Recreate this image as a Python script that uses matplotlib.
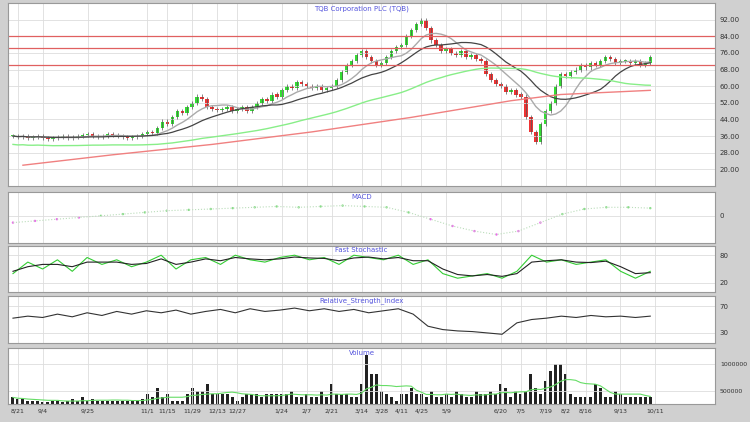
import numpy as np
import pandas as pd
import matplotlib
matplotlib.use("Agg")
import matplotlib.pyplot as plt

# ── Data ───────────────────────────────────────────────────
closes = [36, 35.5, 36, 35, 35.5, 36, 35, 34.5, 35, 35.5, 36, 35, 35.5, 36, 36.5, 37, 36, 35.5, 36, 37,
          36.5, 36, 35.5, 35, 35.5, 36, 37, 38, 37.5, 40, 43, 42, 45, 48, 47, 50, 52, 55, 54, 50,
          49, 48.5, 49, 50, 48, 49, 50, 48, 50, 52, 54, 53, 56, 55, 58, 60, 59, 62, 61, 60,
          59, 60, 58, 59, 60, 63, 67, 70, 72, 75, 77, 74, 72, 70, 71, 74, 77, 79, 80, 84,
          87, 90, 92, 88, 82, 80, 77, 78, 76, 75, 77, 74, 75, 73, 72, 66, 63, 61, 60, 57,
          58, 56, 55, 45, 38, 33, 42, 48, 52, 60, 66, 65, 67, 68, 70, 69, 71, 70, 72, 74,
          73, 71, 72, 72, 71, 72, 70, 71, 74]
volume = [2, 1.5, 1.5, 1, 1, 1, 0.5, 0.5, 1, 1, 0.5, 1, 1.5, 1, 2, 1, 1.5, 1, 1, 1,
          1, 1, 1, 1, 1, 1, 1.5, 3, 2, 5, 2, 3, 1, 1, 1, 3, 5, 4, 4, 6,
          3, 3, 3, 3, 2, 1, 2, 3, 3, 3, 2, 3, 3, 3, 3, 3, 4, 2, 2, 3,
          2, 2, 4, 2, 6, 3, 3, 3, 2, 2, 6, 15, 9, 9, 4, 3, 2, 1, 3, 3,
          5, 3, 3, 2, 4, 2, 2, 3, 2, 4, 3, 2, 2, 4, 3, 3, 4, 3, 6, 5,
          2, 4, 3, 4, 9, 5, 3, 7, 10, 12, 12, 9, 3, 2, 2, 2, 2, 6, 5, 2,
          2, 4, 3, 2, 2, 2, 2, 2, 2]
long_ma_idx = [2, 20, 40, 60, 80, 100, 110, 128]
long_ma = [22, 27, 32, 38, 45, 53, 56, 58]
resist = [84, 78.5, 70]
macd = [-0.4, -0.3, -0.2, -0.1, 0.0, 0.1, 0.2, 0.3, 0.35, 0.4, 0.45, 0.5, 0.55, 0.5, 0.55, 0.6,
        0.55, 0.5, 0.2, -0.2, -0.6, -0.9, -1.1, -0.9, -0.4, 0.1, 0.4, 0.5, 0.5, 0.45]
stoch_k = [40, 65, 50, 70, 45, 75, 60, 70, 55, 65, 80, 50, 70, 75, 60, 80, 70, 65, 75, 80, 70, 75,
           60, 80, 75, 70, 80, 60, 70, 40, 30, 35, 40, 30, 45, 80, 65, 70, 60, 65, 70, 45, 30, 45]
stoch_d = [45, 55, 60, 60, 55, 65, 65, 65, 60, 62, 72, 60, 65, 72, 68, 75, 72, 70, 72, 76, 74, 73,
           68, 74, 76, 72, 75, 68, 68, 50, 38, 35, 38, 34, 40, 65, 68, 70, 65, 64, 67, 55, 40, 42]
rsi = [52, 55, 53, 58, 54, 60, 56, 62, 58, 63, 60, 64, 58, 62, 65, 60, 66, 62, 64, 67, 63, 66,
       62, 65, 60, 63, 66, 58, 40, 35, 33, 32, 30, 28, 45, 50, 52, 55, 53, 56, 54, 55, 53, 55]
tick_idx = [1, 6, 15, 27, 31, 36, 41, 45, 54, 59, 64, 70, 74, 78, 82, 87, 98, 102, 107, 111, 115, 122, 129]
tick_lbl = ["8/21", "9/4", "9/25", "11/1", "11/15", "11/29", "12/13", "12/27", "1/24", "2/7", "2/21",
            "3/14", "3/28", "4/11", "4/25", "5/9", "6/20", "7/5", "7/19", "8/2", "8/16", "9/13", "10/11"]

# ── Figure ─────────────────────────────────────────────────
fig = plt.figure(figsize=(7.5, 4.22), dpi=100, facecolor="#d0d0d0")
W, H = 750, 422


def panel(top, bottom):
    ax = fig.add_axes([8 / W, 1 - bottom / H, (715 - 8) / W, (bottom - top) / H])
    ax.set_facecolor("white")
    ax.set_xlim(-1, 141)
    ax.set_xticks(tick_idx)
    ax.tick_params(labelbottom=False, length=0, labelsize=5, colors="#333333")
    ax.grid(True, color="#dddddd", lw=0.6)
    ax.yaxis.tick_right()
    for s in ax.spines.values():
        s.set_color("#999999")
    return ax


n = len(closes)
x = np.arange(n)
c = np.array(closes)
o = np.r_[c[0], c[:-1]]

ax = panel(3, 186)
for i in range(n):
    col = "#33dd33" if c[i] >= o[i] else "#ee3333"
    lo, hi = min(o[i], c[i]), max(o[i], c[i])
    ax.vlines(i, lo - 1, hi + 1, color="#555555", lw=0.5)
    ax.bar(i, max(hi - lo, 0.4), bottom=lo, width=0.7, color=col, lw=0)
s = pd.Series(c)
ax.plot(x, s.rolling(8, min_periods=1).mean(), color="#aaaaaa", lw=1)
ax.plot(x, s.rolling(16, min_periods=1).mean(), color="#444444", lw=0.9)
ax.plot(x, s.rolling(40, min_periods=1).mean() - 4, color="#88ee88", lw=1)
ax.plot(long_ma_idx, long_ma, color="#f08080", lw=1)
for r in resist:
    ax.axhline(r, color="#e06060", lw=0.9)
ax.set_ylim(12, 100)
ax.set_yticks([92, 84, 76, 68, 60, 52, 44, 36, 28, 20])
ax.set_yticklabels([f"{v:.2f}" for v in [92, 84, 76, 68, 60, 52, 44, 36, 28, 20]])
ax.text(0.5, 0.985, "TQB Corporation PLC (TQB)", transform=ax.transAxes, ha="center", va="top",
        fontsize=5, color="#5555dd")

ax = panel(192, 243)
mx = np.linspace(0, n - 1, len(macd))
ax.plot(mx, macd, color="#bbddbb", lw=0.8, ls=":")
ax.scatter(mx, macd, s=3, c=["#ee66ee" if v < 0 else "#88dd88" for v in macd], lw=0)
ax.set_ylim(-1.6, 1.4)
ax.set_yticks([0])
ax.text(0.5, 0.97, "MACD", transform=ax.transAxes, ha="center", va="top", fontsize=5, color="#5555dd")

ax = panel(246, 292)
sx = np.linspace(0, n - 1, len(stoch_k))
ax.plot(sx, stoch_k, color="#33cc33", lw=0.8)
ax.plot(sx, stoch_d, color="#222222", lw=0.8)
ax.set_ylim(0, 100)
ax.set_yticks([20, 80])
ax.text(0.5, 0.97, "Fast Stochastic", transform=ax.transAxes, ha="center", va="top", fontsize=5, color="#5555dd")

ax = panel(296, 343)
rx = np.linspace(0, n - 1, len(rsi))
ax.plot(rx, rsi, color="#333333", lw=0.8)
ax.set_ylim(15, 85)
ax.set_yticks([30, 70])
ax.text(0.5, 0.97, "Relative_Strength_Index", transform=ax.transAxes, ha="center", va="top", fontsize=5, color="#5555dd")

ax = panel(348, 404)
ax.bar(x, volume, width=0.6, color="#222222")
ax.plot(x, pd.Series(volume).rolling(10, min_periods=1).mean(), color="#66dd66", lw=0.8)
ax.set_ylim(0, 17)
ax.set_yticks([4, 12])
ax.set_yticklabels(["500000", "1000000"])
ax.text(0.5, 0.97, "Volume", transform=ax.transAxes, ha="center", va="top", fontsize=5, color="#5555dd")
ax.tick_params(labelbottom=True, labelsize=4.5)
ax.set_xticklabels(tick_lbl)

fig.savefig("out.png", dpi=100, facecolor=fig.get_facecolor())
